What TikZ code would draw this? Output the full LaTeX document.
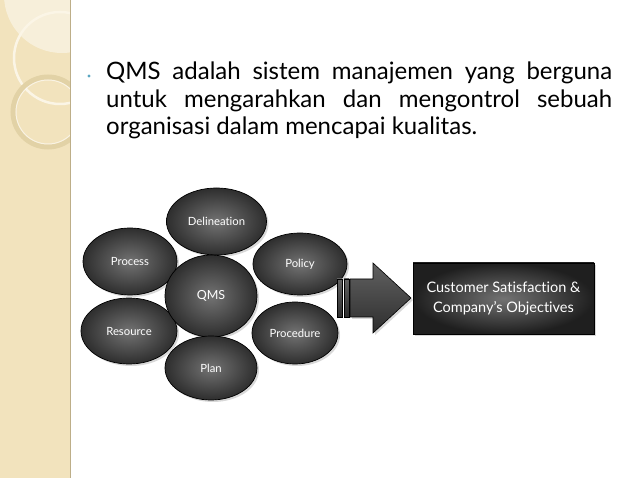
\documentclass[tikz,border=0pt]{standalone}
\usepackage{fontspec}
\setmainfont{Lato}[Ligatures={NoCommon,NoRare}]
\usetikzlibrary{shapes.geometric,shadows}
\definecolor{panel}{HTML}{F2E3BD}
\definecolor{panelline}{HTML}{BDAE88}
\definecolor{ringA}{HTML}{FBF5E6}
\definecolor{ringB}{HTML}{E2D2A6}
\definecolor{bulletc}{HTML}{5AA6C2}
\tikzset{
  bub/.style={ellipse, draw=black, line width=0.7pt, inner sep=0pt,
    shading=radial, inner color=black!55, outer color=black!82,
    drop shadow={opacity=0.3, shadow xshift=2pt, shadow yshift=-2pt},
    text=white, font=\fontsize{11.3}{13}\selectfont},
  resbox/.style={rectangle, draw=black, line width=0.7pt, inner sep=0pt,
    shading=radial, inner color=black!55, outer color=black!88,
    drop shadow={opacity=0.3, shadow xshift=2pt, shadow yshift=-2pt},
    text=white, align=center, font=\fontsize{14.5}{19.5}\selectfont},
  arrowfill/.style={draw=black, line width=0.6pt, shading=axis, top color=black!62, bottom color=black!82, shading angle=0},
}
\begin{document}
\begin{tikzpicture}[x=1pt,y=-1pt]
\useasboundingbox (0,0) rectangle (638,478);
\fill[white] (0,0) rectangle (638,478);
% left panel
\fill[panel] (0,0) rectangle (70,478);
\begin{scope}
\clip (0,0) rectangle (70,478);
\fill[white,opacity=0.45] (62,-5) circle (58);
\draw[ringA, line width=2.5pt] (60,58) circle (46);
\draw[ringB, line width=5pt] (48,112) circle (35);
\draw[white, opacity=0.6, line width=1pt] (48,112) circle (32);
\end{scope}
\draw[panelline, line width=1.2pt] (70.5,0) -- (70.5,478);
% bullet text
\fill[bulletc] (89,76) circle (1.7);
\node[anchor=north west, inner sep=0pt, font=\fontsize{24}{27.5}\selectfont, align=left] (txt) at (106,62)
 {\makebox[506pt][s]{QMS adalah sistem manajemen yang berguna}\\
  \makebox[506pt][s]{untuk mengarahkan dan mengontrol sebuah}\\
  organisasi dalam mencapai kualitas.};
% bubbles
\node[bub, minimum width=100pt, minimum height=67pt] (del) at (216.5,221.5) {Delineation};
\node[bub, minimum width=94pt, minimum height=67pt] (pro) at (130,261.5) {Process};
\node[bub, minimum width=94pt, minimum height=62pt] (pol) at (300,264) {Policy};
\node[bub, minimum width=96pt, minimum height=66pt] (res) at (129,331) {Resource};
\node[bub, minimum width=86pt, minimum height=62pt] (prc) at (295,333) {Procedure};
\node[bub, minimum width=92pt, minimum height=82pt, font=\fontsize{12.5}{15}\selectfont] (qms) at (211,296) {QMS};
\node[bub, minimum width=92pt, minimum height=64pt] (pla) at (211,368) {Plan};
% arrow
\draw[arrowfill] (337,279) rectangle (342,317);
\draw[arrowfill] (344,279) rectangle (349,317);
\draw[arrowfill, drop shadow={opacity=0.3, shadow xshift=2pt, shadow yshift=-2pt}]
  (350,279) -- (373,279) -- (373,263) -- (411,298) -- (373,333) -- (373,317) -- (350,317) -- cycle;
% result box
\node[resbox, minimum width=181pt, minimum height=71pt] (cs) at (503.5,298.5)
 {Customer Satisfaction \&\\Company’s Objectives};
\end{tikzpicture}
\end{document}
